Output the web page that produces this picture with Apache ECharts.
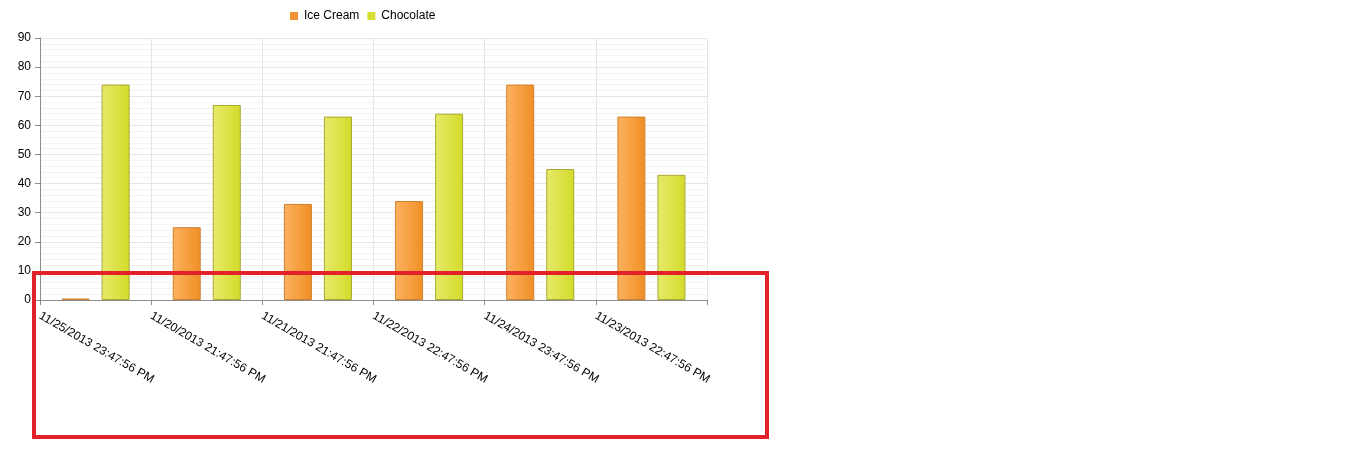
<!DOCTYPE html>
<html>
<head>
<meta charset="utf-8">
<script src="https://cdn.jsdelivr.net/npm/echarts@6/dist/echarts.min.js"></script>
<style>
html,body{margin:0;padding:0;background:#fff;}
#c{width:1366px;height:475px;}
</style>
</head>
<body>
<div id="c"></div>
<script>
var categories = ['11/25/2013 23:47:56 PM','11/20/2013 21:47:56 PM','11/21/2013 21:47:56 PM','11/22/2013 22:47:56 PM','11/24/2013 23:47:56 PM','11/23/2013 22:47:56 PM'];
var iceCream = [0.5, 25, 33, 34, 74, 63];
var chocolate = [74, 67, 63, 64, 45, 43];
var seriesNames = ['Ice Cream', 'Chocolate'];

var chart = echarts.init(document.getElementById('c'));
function grad(a, b) {
  return new echarts.graphic.LinearGradient(0, 0, 1, 0, [
    {offset: 0, color: a}, {offset: 1, color: b}
  ]);
}
var fontFam = '"Liberation Sans", Arial, sans-serif';
chart.setOption({
  animation: false,
  textStyle: {fontFamily: fontFam},
  legend: {
    left: 285, top: 5,
    itemWidth: 8, itemHeight: 8, itemGap: 8,
    icon: 'rect',
    textStyle: {fontSize: 12, color: '#000', fontFamily: fontFam, padding: [0, 0, 0, 1]},
    data: [
      {name: seriesNames[0], itemStyle: {color: '#f0922e', borderWidth: 0}},
      {name: seriesNames[1], itemStyle: {color: '#d5dc33', borderWidth: 0}}
    ]
  },
  grid: {left: 40, right: 659, top: 38, bottom: 175, containLabel: false},
  xAxis: [
    {
      type: 'category', data: categories, position: 'bottom',
      show: false, boundaryGap: true
    },
    {
      type: 'category', data: categories.concat(['']), position: 'bottom',
      boundaryGap: false,
      axisLine: {show: true, lineStyle: {color: '#8c8c8c', width: 1}},
      axisTick: {show: true, length: 5, lineStyle: {color: '#8c8c8c'}},
      axisLabel: {rotate: -30, margin: 15, fontSize: 12, color: '#000', fontFamily: fontFam, interval: 0},
      splitLine: {show: true, lineStyle: {color: '#e6e6e6', width: 1}}
    }
  ],
  yAxis: {
    type: 'value', min: 0, max: 90, interval: 10,
    axisLine: {show: true, lineStyle: {color: '#8c8c8c', width: 1}},
    axisTick: {show: true, length: 5, lineStyle: {color: '#8c8c8c'}},
    axisLabel: {fontSize: 12, color: '#000', margin: 9, fontFamily: fontFam},
    splitLine: {show: true, lineStyle: {color: '#e6e6e6'}},
    minorTick: {show: false, splitNumber: 5},
    minorSplitLine: {show: true, lineStyle: {color: '#f3f3f3'}}
  },
  series: [
    {
      name: seriesNames[0], type: 'bar', data: iceCream, xAxisIndex: 0,
      barWidth: 28, barGap: '43%',
      itemStyle: {color: grad('#fcb260', '#f08e24'), borderColor: '#d0802c', borderWidth: 1}
    },
    {
      name: seriesNames[1], type: 'bar', data: chocolate, xAxisIndex: 0,
      barWidth: 28, barGap: '43%',
      itemStyle: {color: grad('#e6ea6a', '#d3db2a'), borderColor: '#a8a830', borderWidth: 1}
    }
  ],
  graphic: [
    {
      type: 'rect', z: 100,
      shape: {x: 34, y: 273, width: 733, height: 164},
      style: {fill: 'none', stroke: '#e3212b', lineWidth: 4}
    }
  ]
});
</script>
</body>
</html>
